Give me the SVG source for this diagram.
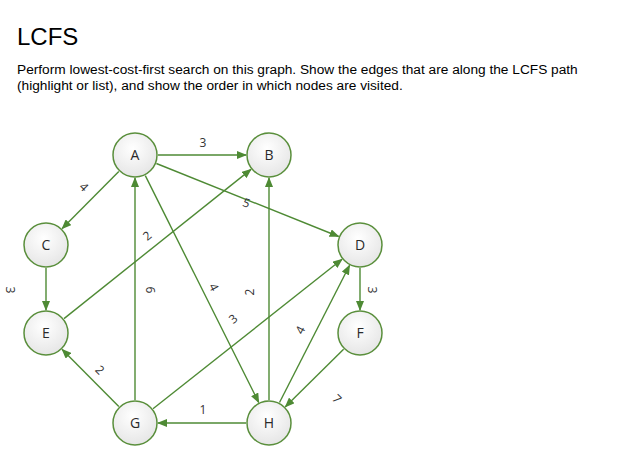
<svg xmlns="http://www.w3.org/2000/svg" width="620" height="466" viewBox="0 0 620 466">
<style>
.t{font-family:"Liberation Sans",Arial,sans-serif;fill:#000}
.n circle{fill:url(#g);stroke:#5a8f3c;stroke-width:1.5}
.n text{font-family:"Open Sans","Liberation Sans",sans-serif;font-size:14px;fill:#2a2a2a;text-anchor:middle}
.e line{stroke:#4e8a34;stroke-width:1.4;marker-end:url(#ar)}
.l{font-family:"Open Sans","Liberation Sans",sans-serif;font-size:12px;fill:#333;text-anchor:middle}
</style>
<defs>
<radialGradient id="g" cx="0.45" cy="0.35" r="0.7"><stop offset="0" stop-color="#ffffff"/><stop offset="1" stop-color="#e4e4e4"/></radialGradient>
<marker id="ar" markerWidth="10" markerHeight="8" refX="9" refY="4" orient="auto" markerUnits="userSpaceOnUse"><path d="M0,0L10,4L0,8z" fill="#4e8a34"/></marker>
</defs>
<rect width="620" height="466" fill="#fff"/>
<text class="t" x="17" y="45" font-size="24">LCFS</text>
<text class="t" x="17" y="74" font-size="13.7">Perform lowest-cost-first search on this graph.  Show the edges that are along the LCFS path</text>
<text class="t" x="17" y="90" font-size="13.7">(highlight or list), and show the order in which nodes are visited.</text>
<g class="e" id="edges">
<line x1="158" y1="155" x2="246" y2="155"/>
<line x1="118.8" y1="171.4" x2="62.2" y2="228.6"/>
<line x1="156.4" y1="163.5" x2="338.6" y2="236.5"/>
<line x1="145.3" y1="175.6" x2="258.7" y2="402.4"/>
<line x1="46" y1="268" x2="46" y2="310"/>
<line x1="64" y1="318.6" x2="251" y2="169.4"/>
<line x1="135" y1="400" x2="135" y2="178"/>
<line x1="118.8" y1="406.6" x2="62.2" y2="349.4"/>
<line x1="153" y1="408.7" x2="342" y2="259.3"/>
<line x1="246" y1="423" x2="158" y2="423"/>
<line x1="269" y1="400" x2="269" y2="178"/>
<line x1="279.5" y1="402.5" x2="349.5" y2="265.5"/>
<line x1="360" y1="268" x2="360" y2="310"/>
<line x1="343.6" y1="349.2" x2="285.4" y2="406.8"/>
</g>
<g id="labels">
<text class="l" x="203" y="147">3</text>
<text class="l" transform="translate(81,190) rotate(45)">4</text>
<text class="l" transform="translate(245,207) rotate(20)">5</text>
<text class="l" transform="translate(150,239) rotate(-40)">2</text>
<text class="l" transform="translate(146,290) rotate(90)">6</text>
<text class="l" transform="translate(210,289) rotate(63)">4</text>
<text class="l" transform="translate(236,322) rotate(-40)">3</text>
<text class="l" transform="translate(254,292) rotate(-90)">2</text>
<text class="l" transform="translate(304,332) rotate(-63)">4</text>
<text class="l" transform="translate(6,290) rotate(90)">3</text>
<text class="l" transform="translate(368,290) rotate(90)">3</text>
<text class="l" transform="translate(97,373) rotate(45)">2</text>
<text class="l" x="203" y="414">1</text>
<text class="l" transform="translate(334,402) rotate(45)">7</text>
</g>
<g class="n" id="A"><circle cx="135" cy="155" r="22"/><text x="135" y="160">A</text></g>
<g class="n" id="B"><circle cx="269" cy="155" r="22"/><text x="269" y="160">B</text></g>
<g class="n" id="C"><circle cx="46" cy="245" r="22"/><text x="46" y="250">C</text></g>
<g class="n" id="D"><circle cx="360" cy="245" r="22"/><text x="360" y="250">D</text></g>
<g class="n" id="E"><circle cx="46" cy="333" r="22"/><text x="46" y="338">E</text></g>
<g class="n" id="F"><circle cx="360" cy="333" r="22"/><text x="360" y="338">F</text></g>
<g class="n" id="G"><circle cx="135" cy="423" r="22"/><text x="135" y="428">G</text></g>
<g class="n" id="H"><circle cx="269" cy="423" r="22"/><text x="269" y="428">H</text></g>
</svg>
